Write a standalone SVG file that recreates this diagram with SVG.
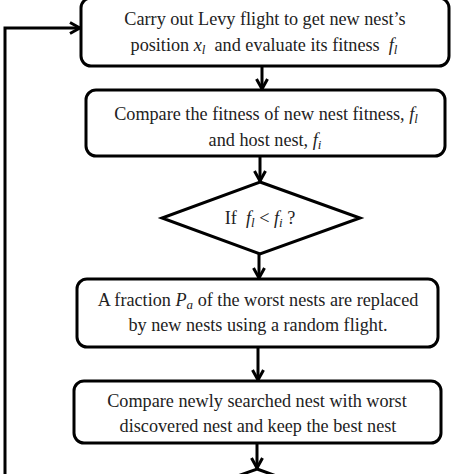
<svg xmlns="http://www.w3.org/2000/svg" width="474" height="474" viewBox="0 0 474 474">
<defs>
<style>
.box{fill:#fff;stroke:#000;stroke-width:3}
.ln{fill:none;stroke:#000;stroke-width:3}
text{font-family:"Liberation Serif","Times New Roman",serif;font-size:18.2px;fill:#222;text-anchor:middle}
.i{font-style:italic}
.s{font-size:13px;font-style:italic}
</style>
<marker id="ah" markerUnits="userSpaceOnUse" markerWidth="14" markerHeight="14" viewBox="0 0 14 14" refX="12" refY="7" orient="auto">
<path d="M2,1.5 L12,7 L2,12.5" fill="none" stroke="#000" stroke-width="3" stroke-linejoin="miter"/>
</marker>
</defs>
<rect width="474" height="474" fill="#fff"/>
<g id="connectors">
<path class="ln" d="M5,476 L5,28 L80,28" marker-end="url(#ah)"/>
<path class="ln" d="M262,66 L262,89" marker-end="url(#ah)"/>
<path class="ln" d="M260,156 L260,181" marker-end="url(#ah)"/>
<path class="ln" d="M259,253 L259,278" marker-end="url(#ah)"/>
<path class="ln" d="M258,347 L258,380" marker-end="url(#ah)"/>
<path class="ln" d="M257,443 L257,468" marker-end="url(#ah)"/>
</g>
<g id="n1">
<rect class="box" x="81" y="-2" width="368" height="68" rx="10"/>
<text x="265" y="25">Carry out Levy flight to get new nest’s</text>
<text x="264" y="51" xml:space="preserve">position <tspan class="i">x</tspan><tspan class="s" dy="3">l</tspan><tspan dy="-3">  and evaluate its fitness  </tspan><tspan class="i">f</tspan><tspan class="s" dy="3">l</tspan></text>
</g>
<g id="n2">
<rect class="box" x="86" y="90" width="359" height="66" rx="10"/>
<text x="266" y="120">Compare the fitness of new nest fitness, <tspan class="i">f</tspan><tspan class="s" dy="3">l</tspan></text>
<text x="265" y="146">and host nest, <tspan class="i">f</tspan><tspan class="s" dy="3">i</tspan></text>
</g>
<g id="n3">
<polygon class="box" points="260,182 360,218 260,254 162,218"/>
<text x="260" y="224" xml:space="preserve">If  <tspan class="i">f</tspan><tspan class="s" dy="3">l</tspan><tspan dy="-3"> &lt; </tspan><tspan class="i">f</tspan><tspan class="s" dy="3">i</tspan><tspan dy="-3"> ?</tspan></text>
</g>
<g id="n4">
<rect class="box" x="77" y="279" width="361" height="68" rx="10"/>
<text x="258" y="306">A fraction <tspan class="i">P</tspan><tspan class="s" dy="3">a</tspan><tspan dy="-3"> of the worst nests are replaced</tspan></text>
<text x="258" y="331">by new nests using a random flight.</text>
</g>
<g id="n5">
<rect class="box" x="74" y="381" width="367" height="62" rx="10"/>
<text x="257" y="407">Compare newly searched nest with worst</text>
<text x="258" y="432">discovered nest and keep the best nest</text>
</g>
<g id="n6">
<polygon class="box" points="257,469 357,505 257,541 157,505"/>
</g>
</svg>
